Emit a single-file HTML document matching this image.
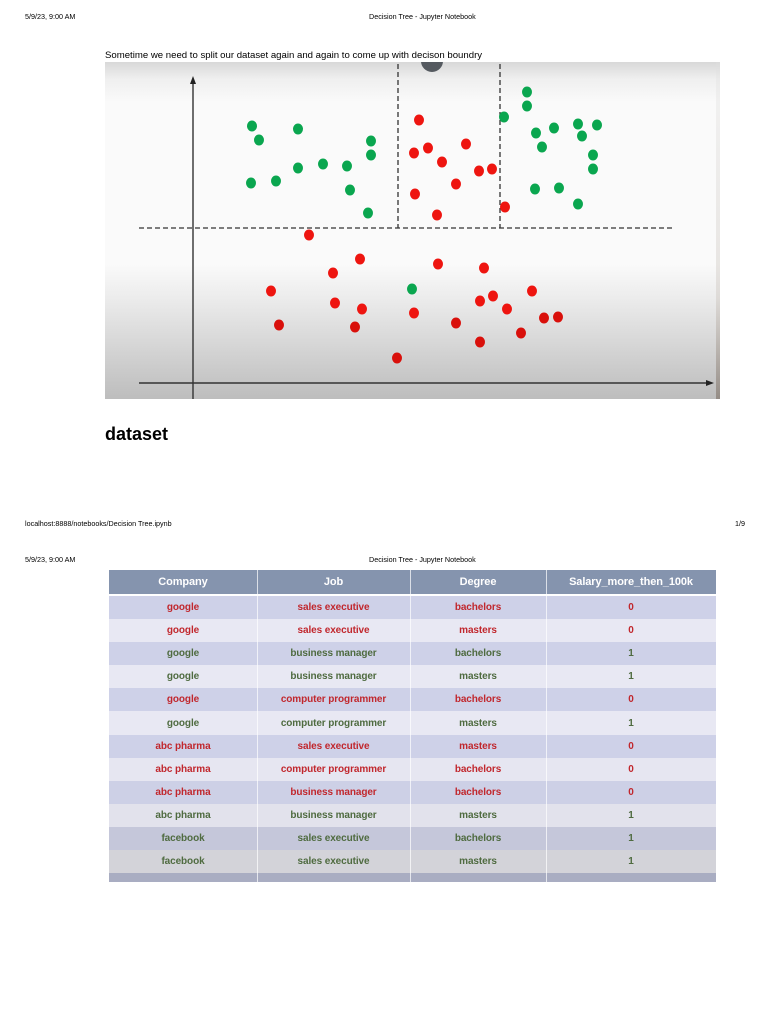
<!DOCTYPE html>
<html><head><meta charset="utf-8">
<style>
html,body{margin:0;padding:0;background:#fff;}
body{width:768px;height:1024px;position:relative;overflow:hidden;font-family:"Liberation Sans",Arial,sans-serif;color:#000;}
.t{position:absolute;font-size:7.2px;white-space:nowrap;line-height:1;}
.row{position:absolute;left:109px;width:607px;height:23px;}
.c{position:absolute;top:0;height:100%;display:flex;align-items:center;justify-content:center;font-size:10px;font-weight:bold;letter-spacing:-0.1px;}
.c1{left:0;width:148px;}
.c2{left:148px;width:153px;}
.c3{left:301px;width:136px;}
.c4{left:437px;width:170px;}
.sep{position:absolute;top:0;width:1px;height:100%;background:rgba(255,255,255,0.7);}
.r{color:#c1272d;}
.g{color:#4f6b40;}
</style></head>
<body>
<div class="t" style="left:25px;top:13px;">5/9/23, 9:00 AM</div>
<div class="t" style="left:369px;top:13px;">Decision Tree - Jupyter Notebook</div>

<div style="position:absolute;left:105px;top:51px;font-size:9.6px;white-space:nowrap;line-height:1;">Sometime we need to split our dataset again and again to come up with decison boundry</div>

<svg style="position:absolute;left:105px;top:62px;" width="615" height="337" viewBox="105 62 615 337" xmlns="http://www.w3.org/2000/svg">
<defs>
<linearGradient id="bg" x1="0" y1="0" x2="0" y2="1">
<stop offset="0" stop-color="#d8d8d8"/>
<stop offset="0.05" stop-color="#efefef"/>
<stop offset="0.12" stop-color="#fafafa"/>
<stop offset="0.6" stop-color="#fafafa"/>
<stop offset="0.7" stop-color="#ececec"/>
<stop offset="1" stop-color="#bdbdbd"/>
</linearGradient>
<linearGradient id="edge" x1="0" y1="0" x2="0" y2="1">
<stop offset="0" stop-color="#e0e0e0" stop-opacity="0.3"/>
<stop offset="0.7" stop-color="#c8c0b8" stop-opacity="0.4"/>
<stop offset="1" stop-color="#8a8078" stop-opacity="0.8"/>
</linearGradient>
</defs>
<rect x="105" y="62" width="615" height="337" fill="url(#bg)"/>
<rect x="716" y="62" width="4" height="337" fill="url(#edge)"/>
<circle cx="432" cy="61" r="11" fill="#555a60"/>
<g stroke="#333" stroke-width="1.3" stroke-dasharray="5,3" fill="none">
<line x1="139" y1="228" x2="672" y2="228"/>
<line x1="398" y1="64" x2="398" y2="228"/>
<line x1="500" y1="64" x2="500" y2="228"/>
</g>
<g stroke="#333" stroke-width="1.4">
<line x1="193" y1="82" x2="193" y2="399"/>
<line x1="139" y1="383" x2="708" y2="383"/>
</g>
<polygon points="193,76 190,84 196,84" fill="#222"/>
<polygon points="714,383 706,380 706,386" fill="#222"/>
<g fill="#0aa64f">
<ellipse cx="252" cy="126" rx="5" ry="5.5"/><ellipse cx="259" cy="140" rx="5" ry="5.5"/>
<ellipse cx="298" cy="129" rx="5" ry="5.5"/><ellipse cx="371" cy="141" rx="5" ry="5.5"/>
<ellipse cx="371" cy="155" rx="5" ry="5.5"/><ellipse cx="298" cy="168" rx="5" ry="5.5"/>
<ellipse cx="323" cy="164" rx="5" ry="5.5"/><ellipse cx="347" cy="166" rx="5" ry="5.5"/>
<ellipse cx="251" cy="183" rx="5" ry="5.5"/><ellipse cx="276" cy="181" rx="5" ry="5.5"/>
<ellipse cx="350" cy="190" rx="5" ry="5.5"/><ellipse cx="368" cy="213" rx="5" ry="5.5"/>
<ellipse cx="527" cy="92" rx="5" ry="5.5"/><ellipse cx="527" cy="106" rx="5" ry="5.5"/>
<ellipse cx="504" cy="117" rx="5" ry="5.5"/><ellipse cx="536" cy="133" rx="5" ry="5.5"/>
<ellipse cx="554" cy="128" rx="5" ry="5.5"/><ellipse cx="578" cy="124" rx="5" ry="5.5"/>
<ellipse cx="597" cy="125" rx="5" ry="5.5"/><ellipse cx="582" cy="136" rx="5" ry="5.5"/>
<ellipse cx="542" cy="147" rx="5" ry="5.5"/><ellipse cx="593" cy="155" rx="5" ry="5.5"/>
<ellipse cx="593" cy="169" rx="5" ry="5.5"/><ellipse cx="535" cy="189" rx="5" ry="5.5"/>
<ellipse cx="559" cy="188" rx="5" ry="5.5"/><ellipse cx="578" cy="204" rx="5" ry="5.5"/>
<ellipse cx="412" cy="289" rx="5" ry="5.5"/>
</g>
<g fill="#ee1510">
<ellipse cx="419" cy="120" rx="5" ry="5.5"/><ellipse cx="414" cy="153" rx="5" ry="5.5"/>
<ellipse cx="428" cy="148" rx="5" ry="5.5"/><ellipse cx="442" cy="162" rx="5" ry="5.5"/>
<ellipse cx="466" cy="144" rx="5" ry="5.5"/><ellipse cx="479" cy="171" rx="5" ry="5.5"/>
<ellipse cx="492" cy="169" rx="5" ry="5.5"/><ellipse cx="456" cy="184" rx="5" ry="5.5"/>
<ellipse cx="415" cy="194" rx="5" ry="5.5"/><ellipse cx="437" cy="215" rx="5" ry="5.5"/>
<ellipse cx="505" cy="207" rx="5" ry="5.5"/><ellipse cx="309" cy="235" rx="5" ry="5.5"/>
<ellipse cx="360" cy="259" rx="5" ry="5.5"/><ellipse cx="333" cy="273" rx="5" ry="5.5"/>
<ellipse cx="271" cy="291" rx="5" ry="5.5"/><ellipse cx="335" cy="303" rx="5" ry="5.5"/>
<ellipse cx="362" cy="309" rx="5" ry="5.5"/><ellipse cx="414" cy="313" rx="5" ry="5.5"/>
<ellipse cx="438" cy="264" rx="5" ry="5.5"/><ellipse cx="484" cy="268" rx="5" ry="5.5"/>
<ellipse cx="480" cy="301" rx="5" ry="5.5"/><ellipse cx="493" cy="296" rx="5" ry="5.5"/>
<ellipse cx="507" cy="309" rx="5" ry="5.5"/><ellipse cx="532" cy="291" rx="5" ry="5.5"/>
</g>
<g fill="#d9100b">
<ellipse cx="279" cy="325" rx="5" ry="5.5"/><ellipse cx="355" cy="327" rx="5" ry="5.5"/>
<ellipse cx="397" cy="358" rx="5" ry="5.5"/><ellipse cx="456" cy="323" rx="5" ry="5.5"/>
<ellipse cx="521" cy="333" rx="5" ry="5.5"/><ellipse cx="480" cy="342" rx="5" ry="5.5"/>
<ellipse cx="544" cy="318" rx="5" ry="5.5"/><ellipse cx="558" cy="317" rx="5" ry="5.5"/>
</g>
</svg>

<div style="position:absolute;left:105px;top:425px;font-size:18px;font-weight:bold;line-height:1;">dataset</div>

<div class="t" style="left:25px;top:520px;">localhost:8888/notebooks/Decision Tree.ipynb</div>
<div class="t" style="left:735px;top:520px;">1/9</div>

<div class="t" style="left:25px;top:556px;">5/9/23, 9:00 AM</div>
<div class="t" style="left:369px;top:556px;">Decision Tree - Jupyter Notebook</div>

<!-- table -->
<div class="row" style="top:570px;height:24px;background:#8594ae;color:#fff;">
<div class="c c1" style="font-size:11px;">Company</div>
<div class="c c2" style="font-size:11px;">Job</div>
<div class="c c3" style="font-size:11px;">Degree</div>
<div class="c c4" style="font-size:11px;">Salary_more_then_100k</div>
<div class="sep" style="left:148px;"></div><div class="sep" style="left:301px;"></div><div class="sep" style="left:437px;"></div>
</div>

<div class="row" style="top:596px;background:#ced1e8;"><div class="c c1 r">google</div><div class="c c2 r">sales executive</div><div class="c c3 r">bachelors</div><div class="c c4 r">0</div><div class="sep" style="left:148px;"></div><div class="sep" style="left:301px;"></div><div class="sep" style="left:437px;"></div></div>
<div class="row" style="top:619px;background:#e8e8f3;"><div class="c c1 r">google</div><div class="c c2 r">sales executive</div><div class="c c3 r">masters</div><div class="c c4 r">0</div><div class="sep" style="left:148px;"></div><div class="sep" style="left:301px;"></div><div class="sep" style="left:437px;"></div></div>
<div class="row" style="top:642px;background:#ced1e8;"><div class="c c1 g">google</div><div class="c c2 g">business manager</div><div class="c c3 g">bachelors</div><div class="c c4 g">1</div><div class="sep" style="left:148px;"></div><div class="sep" style="left:301px;"></div><div class="sep" style="left:437px;"></div></div>
<div class="row" style="top:665px;background:#e8e8f3;"><div class="c c1 g">google</div><div class="c c2 g">business manager</div><div class="c c3 g">masters</div><div class="c c4 g">1</div><div class="sep" style="left:148px;"></div><div class="sep" style="left:301px;"></div><div class="sep" style="left:437px;"></div></div>
<div class="row" style="top:688px;background:#ced1e8;"><div class="c c1 r">google</div><div class="c c2 r">computer programmer</div><div class="c c3 r">bachelors</div><div class="c c4 r">0</div><div class="sep" style="left:148px;"></div><div class="sep" style="left:301px;"></div><div class="sep" style="left:437px;"></div></div>
<div class="row" style="top:711px;background:#e8e8f3;height:24px;"><div class="c c1 g">google</div><div class="c c2 g">computer programmer</div><div class="c c3 g">masters</div><div class="c c4 g">1</div><div class="sep" style="left:148px;"></div><div class="sep" style="left:301px;"></div><div class="sep" style="left:437px;"></div></div>
<div class="row" style="top:735px;background:#ced1e8;"><div class="c c1 r">abc pharma</div><div class="c c2 r">sales executive</div><div class="c c3 r">masters</div><div class="c c4 r">0</div><div class="sep" style="left:148px;"></div><div class="sep" style="left:301px;"></div><div class="sep" style="left:437px;"></div></div>
<div class="row" style="top:758px;background:#e6e6f1;"><div class="c c1 r">abc pharma</div><div class="c c2 r">computer programmer</div><div class="c c3 r">bachelors</div><div class="c c4 r">0</div><div class="sep" style="left:148px;"></div><div class="sep" style="left:301px;"></div><div class="sep" style="left:437px;"></div></div>
<div class="row" style="top:781px;background:#cdd0e6;"><div class="c c1 r">abc pharma</div><div class="c c2 r">business manager</div><div class="c c3 r">bachelors</div><div class="c c4 r">0</div><div class="sep" style="left:148px;"></div><div class="sep" style="left:301px;"></div><div class="sep" style="left:437px;"></div></div>
<div class="row" style="top:804px;background:#e2e2ec;"><div class="c c1 g">abc pharma</div><div class="c c2 g">business manager</div><div class="c c3 g">masters</div><div class="c c4 g">1</div><div class="sep" style="left:148px;"></div><div class="sep" style="left:301px;"></div><div class="sep" style="left:437px;"></div></div>
<div class="row" style="top:827px;background:#c5c7da;"><div class="c c1 g">facebook</div><div class="c c2 g">sales executive</div><div class="c c3 g">bachelors</div><div class="c c4 g">1</div><div class="sep" style="left:148px;"></div><div class="sep" style="left:301px;"></div><div class="sep" style="left:437px;"></div></div>
<div class="row" style="top:850px;background:#d3d3d9;"><div class="c c1 g">facebook</div><div class="c c2 g">sales executive</div><div class="c c3 g">masters</div><div class="c c4 g">1</div><div class="sep" style="left:148px;"></div><div class="sep" style="left:301px;"></div><div class="sep" style="left:437px;"></div></div>
<div class="row" style="top:873px;height:9px;background:#a9adc2;overflow:hidden;"><div class="sep" style="left:148px;"></div><div class="sep" style="left:301px;"></div><div class="sep" style="left:437px;"></div></div>

</body></html>
